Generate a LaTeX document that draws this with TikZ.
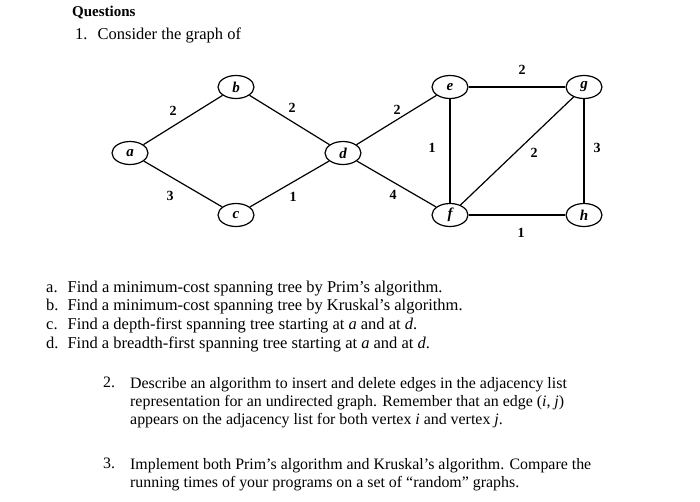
\documentclass[tikz,border=0pt]{standalone}
\usepackage{fontspec}
\setmainfont{Liberation Serif}
\usetikzlibrary{shapes.geometric}
\begin{document}
\begin{tikzpicture}[x=1pt,y=-1pt,
  vert/.style={ellipse,draw,line width=1.2pt,minimum width=36pt,minimum height=23pt,inner sep=0pt,font=\fontsize{15}{15}\selectfont\itshape\bfseries},
  edge/.style={line width=1.2pt},
  wl/.style={font=\fontsize{14}{14}\selectfont\bfseries},
  txt/.style={anchor=west,inner sep=0pt,font=\fontsize{16.5}{18}\selectfont,align=left},
  txtb/.style={anchor=north west,inner sep=0pt,font=\fontsize{15.9}{18}\selectfont,align=left}]
\useasboundingbox (0,0) rectangle (700,501);
\node[vert] (a) at (130,153) {a};
\node[vert] (b) at (236,87) {b};
\node[vert] (c) at (236,215) {c};
\node[vert] (d) at (343,153) {d};
\node[vert] (e) at (450,87) {e};
\node[vert] (g) at (584,87) {g};
\node[vert] (f) at (450,215) {f};
\node[vert] (h) at (584,215) {h};
\draw[edge] (a)--(b); \draw[edge] (a)--(c); \draw[edge] (b)--(d); \draw[edge] (c)--(d);
\draw[edge] (d)--(e); \draw[edge] (d)--(f); \draw[edge] (e)--(f); \draw[edge] (e)--(g);
\draw[edge] (f)--(g); \draw[edge] (g)--(h); \draw[edge] (f)--(h);
\node[wl] (l1) at (173,111) {2};
\node[wl] (l2) at (292,108) {2};
\node[wl] (l3) at (170,196) {3};
\node[wl] (l4) at (293,197) {1};
\node[wl] (l5) at (397,110) {2};
\node[wl] (l6) at (393,195) {4};
\node[wl] (l7) at (432,148) {1};
\node[wl] (l8) at (522,70) {2};
\node[wl] (l9) at (534,153) {2};
\node[wl] (l10) at (597,148) {3};
\node[wl] (l11) at (521,233) {1};
\node[txt,font=\fontsize{15}{17}\selectfont\bfseries] (q) at (72,13) {Questions};
\node[txt] (q1) at (75,35) {1.\hspace{10pt}Consider the graph of};
\node[txt] (ia) at (46,289) {a.\hspace{10pt}Find a minimum-cost spanning tree by Prim's algorithm.};
\node[txt] (ib) at (46,307) {b.\hspace{9pt}Find a minimum-cost spanning tree by Kruskal's algorithm.};
\node[txt] (ic) at (46,325) {c.\hspace{10pt}Find a depth-first spanning tree starting at \textit{a} and at \textit{d}.};
\node[txt] (id) at (46,344) {d.\hspace{9pt}Find a breadth-first spanning tree starting at \textit{a} and at \textit{d}.};
\node[txtb] (n2) at (103,377) {2.};
\node[txtb] (t2) at (130,377) {Describe an algorithm to insert and delete edges in the adjacency list\\representation for an undirected graph. Remember that an edge (\textit{i}, \textit{j})\\appears on the adjacency list for both vertex \textit{i} and vertex \textit{j}.};
\node[txtb] (n3) at (103,458) {3.};
\node[txtb] (t3) at (130,458) {Implement both Prim's algorithm and Kruskal's algorithm. Compare the\\running times of your programs on a set of ``random'' graphs.};
\end{tikzpicture}
\end{document}
